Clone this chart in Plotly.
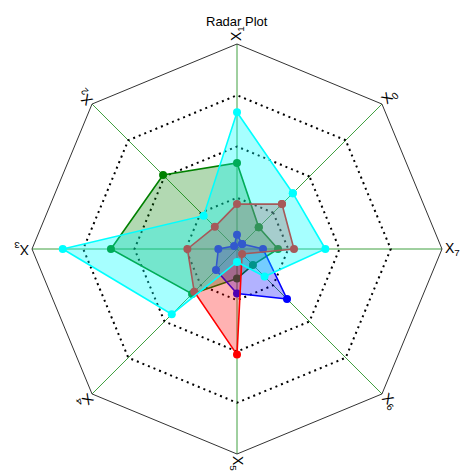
import math
import plotly.graph_objects as go

labels = ["X0", "X1", "X2", "X3", "X4", "X5", "X6", "X7"]

green_vals = [0.15, 0.42, 0.51, 0.615, 0.31, 0.144, 0.11, 0.20]
blue_vals = [0.035, 0.07, 0.02, 0.091, 0.145, 0.217, 0.345, 0.127]
red_vals = [0.31, 0.219, 0.153, 0.242, 0.295, 0.515, 0.035, 0.278]
cyan_vals = [0.385, 0.667, 0.23, 0.85, 0.45, 0.063, 0.19, 0.431]

series = [
    (green_vals, "rgb(0,128,0)", "rgba(0,128,0,0.3)"),
    (blue_vals, "rgb(0,0,255)", "rgba(0,0,255,0.3)"),
    (red_vals, "rgb(255,0,0)", "rgba(255,0,0,0.3)"),
    (cyan_vals, "rgb(0,255,255)", "rgba(0,255,255,0.35)"),
]

W = H = 474
CX, CY, R = 237, 249, 205  # pixel centre (from top) and radius
START = 45  # angle of first category, counterclockwise
STEP = 360 / len(labels)

fig = go.Figure()
for vals, col, fcol in series:
    fig.add_trace(go.Scatterpolar(
        r=vals + vals[:1], theta=labels + labels[:1],
        mode="lines+markers", fill="toself", fillcolor=fcol,
        line=dict(color=col, width=1.6),
        marker=dict(color=col, size=8),
        showlegend=False, hoverinfo="skip",
    ))

annotations = []
for i, lab in enumerate(labels):
    ang = START + i * STEP
    a = math.radians(ang)
    off = R + 10
    px = CX + off * math.cos(a)
    py = CY - off * math.sin(a)
    annotations.append(dict(
        x=px / W, y=1 - py / H, xref="paper", yref="paper",
        text="X<sub>" + lab[1:] + "</sub>", showarrow=False,
        textangle=-(ang % 360), xanchor="center", yanchor="middle",
        font=dict(size=14, color="black", family="Liberation Sans, Arial, sans-serif"),
    ))

annotations.append(dict(
    x=CX / W, y=1 - 22 / H, xref="paper", yref="paper", text="Radar Plot",
    showarrow=False, xanchor="center", yanchor="middle",
    font=dict(size=13, color="black", family="Liberation Sans, Arial, sans-serif"),
))

fig.update_layout(
    width=W, height=H,
    margin=dict(l=0, r=0, t=0, b=0),
    paper_bgcolor="white",
    annotations=annotations,
    polar=dict(
        domain=dict(x=[(CX - R) / W, (CX + R) / W],
                    y=[(H - CY - R) / H, (H - CY + R) / H]),
        bgcolor="white",
        gridshape="linear",
        radialaxis=dict(
            range=[0, 1], tickvals=[0.25, 0.5, 0.75], showticklabels=False,
            ticks="", showline=False, gridcolor="black", gridwidth=2,
            griddash="2px,4px",
        ),
        angularaxis=dict(
            type="category", categoryorder="array", categoryarray=labels,
            direction="counterclockwise", rotation=START,
            showticklabels=False, ticks="",
            showline=True, linecolor="#333333", linewidth=1,
            gridcolor="rgba(0,128,0,0.75)", gridwidth=1.2,
        ),
    ),
)

fig.write_html("out.html", config={"displayModeBar": False},
               post_script="document.body.style.margin='0';")
